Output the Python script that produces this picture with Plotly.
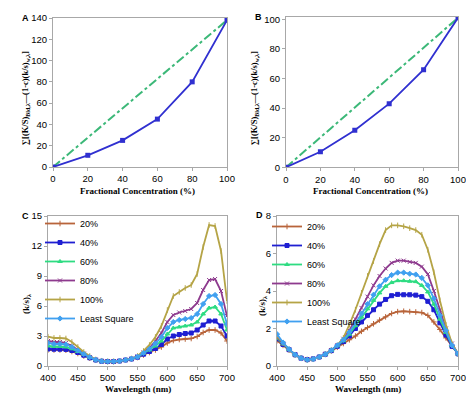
import plotly.graph_objects as go

# ---------------- data ----------------
conc = [0, 20, 40, 60, 80, 100]
a_meas = [0, 11, 25, 45, 80, 138]
a_lin = [0, 138]
a_lin_x = [0, 100]
b_meas = [0, 10.5, 25, 43, 66, 101]
b_lin = [0, 101]
b_lin_x = [0, 100]

wl = list(range(400, 701, 10))
series_names = ["20%", "40%", "60%", "80%", "100%", "Least Square"]

c_20 = [1.6, 1.6, 1.6, 1.58, 1.45, 1.25, 1.0, 0.78, 0.6, 0.48, 0.45, 0.45, 0.5, 0.58, 0.68, 0.85,
        1.1, 1.35, 1.6, 1.9, 2.3, 2.55, 2.65, 2.7, 2.75, 2.95, 3.35, 3.6, 3.6, 3.3, 2.5]
c_40 = [1.7, 1.68, 1.68, 1.66, 1.55, 1.35, 1.08, 0.82, 0.6, 0.48, 0.45, 0.45, 0.5, 0.6, 0.7, 0.88,
        1.18, 1.45, 1.75, 2.15, 2.7, 3.0, 3.15, 3.25, 3.3, 3.6, 4.1, 4.5, 4.5, 4.0, 3.0]
c_60 = [2.0, 1.95, 1.95, 1.9, 1.72, 1.45, 1.15, 0.85, 0.62, 0.48, 0.45, 0.45, 0.5, 0.6, 0.72, 0.9,
        1.25, 1.6, 2.0, 2.5, 3.2, 3.8, 3.9, 4.0, 4.1, 4.4, 5.2, 5.8, 5.9, 5.2, 3.6]
c_80 = [2.5, 2.4, 2.4, 2.3, 2.0, 1.6, 1.25, 0.9, 0.62, 0.48, 0.45, 0.45, 0.5, 0.6, 0.72, 0.95,
        1.35, 1.8, 2.5, 3.3, 4.4, 5.1, 5.35, 5.5, 5.7, 6.3, 7.6, 8.6, 8.7, 7.5, 5.0]
c_100 = [2.93, 2.8, 2.8, 2.75, 2.4, 1.9, 1.4, 1.0, 0.65, 0.5, 0.45, 0.45, 0.5, 0.6, 0.75, 1.0,
         1.5, 2.1, 2.9, 4.0, 5.6, 7.0, 7.4, 7.8, 8.1, 9.2, 11.9, 14.1, 14.0, 11.5, 6.5]
c_ls = [2.3, 2.2, 2.2, 2.15, 1.9, 1.55, 1.2, 0.88, 0.62, 0.48, 0.45, 0.45, 0.5, 0.6, 0.72, 0.92,
        1.3, 1.7, 2.25, 2.9, 3.8, 4.4, 4.6, 4.7, 4.8, 5.2, 6.2, 7.0, 7.1, 6.2, 4.2]

d_20 = [1.35, 1.1, 0.85, 0.6, 0.42, 0.35, 0.38, 0.48, 0.62, 0.8, 1.0, 1.2, 1.4, 1.6, 1.85, 2.05,
        2.25, 2.45, 2.62, 2.8, 2.9, 2.92, 2.9, 2.88, 2.85, 2.7, 2.35, 1.95, 1.5, 1.05, 0.65]
d_40 = [1.45, 1.15, 0.87, 0.6, 0.42, 0.34, 0.38, 0.48, 0.63, 0.82, 1.05, 1.3, 1.6, 2.0, 2.35, 2.7,
        3.0, 3.3, 3.55, 3.75, 3.82, 3.8, 3.8, 3.78, 3.7, 3.45, 3.0, 2.3, 1.65, 1.05, 0.65]
d_60 = [1.5, 1.18, 0.88, 0.6, 0.42, 0.33, 0.38, 0.48, 0.63, 0.83, 1.08, 1.35, 1.7, 2.15, 2.6, 3.05,
        3.5, 3.9, 4.25, 4.45, 4.55, 4.55, 4.52, 4.5, 4.3, 3.95, 3.3, 2.5, 1.8, 1.1, 0.65]
d_80 = [1.55, 1.2, 0.88, 0.6, 0.42, 0.33, 0.37, 0.48, 0.63, 0.84, 1.1, 1.45, 1.9, 2.5, 3.1, 3.7,
        4.3, 4.8, 5.2, 5.5, 5.62, 5.62, 5.55, 5.5, 5.3, 4.9, 4.0, 3.0, 2.0, 1.2, 0.65]
d_100 = [1.6, 1.22, 0.88, 0.6, 0.42, 0.32, 0.36, 0.47, 0.63, 0.85, 1.1, 1.5, 2.2, 3.0, 3.9, 4.8,
         5.6, 6.5, 7.25, 7.5, 7.5, 7.45, 7.35, 7.25, 7.0, 6.2, 5.0, 3.5, 2.2, 1.2, 0.65]
d_ls = [1.7, 1.25, 0.9, 0.6, 0.42, 0.33, 0.37, 0.48, 0.63, 0.84, 1.1, 1.4, 1.8, 2.3, 2.8, 3.3,
        3.8, 4.25, 4.6, 4.85, 4.98, 4.98, 4.92, 4.88, 4.7, 4.3, 3.6, 2.7, 1.9, 1.1, 0.65]

x_ticks_conc = [0, 20, 40, 60, 80, 100]
a_yticks = [0, 20, 40, 60, 80, 100, 120, 140]
b_yticks = [0, 20, 40, 60, 80, 100]
wl_ticks = [400, 450, 500, 550, 600, 650, 700]
c_yticks = [0, 3, 6, 9, 12, 15]
d_yticks = [0, 2, 4, 6, 8]

# ---------------- styles ----------------
colors = ["#B8643A", "#1F1FD2", "#2EDC82", "#8E3A8E", "#B5A446", "#40A0F0"]
symbols = ["cross-thin", "square", "triangle-up", "x-thin", "line-ns", "diamond"]
blue = "#3030D0"
green = "#3CB878"
serif = "Liberation Serif, Times New Roman, serif"
sans = "Liberation Sans, Arial, sans-serif"

fig = go.Figure()

# Panel A
fig.add_trace(go.Scatter(x=a_lin_x, y=a_lin, mode="lines", line=dict(color=green, width=2, dash="dashdot"),
                         showlegend=False, xaxis="x", yaxis="y"))
fig.add_trace(go.Scatter(x=conc, y=a_meas, mode="lines+markers", line=dict(color=blue, width=1.8),
                         marker=dict(symbol="square", size=5, color=blue), showlegend=False,
                         xaxis="x", yaxis="y"))
# Panel B
fig.add_trace(go.Scatter(x=b_lin_x, y=b_lin, mode="lines", line=dict(color=green, width=2, dash="dashdot"),
                         showlegend=False, xaxis="x2", yaxis="y2"))
fig.add_trace(go.Scatter(x=conc, y=b_meas, mode="lines+markers", line=dict(color=blue, width=1.8),
                         marker=dict(symbol="square", size=5, color=blue), showlegend=False,
                         xaxis="x2", yaxis="y2"))

c_data = [c_20, c_40, c_60, c_80, c_100, c_ls]
d_data = [d_20, d_40, d_60, d_80, d_100, d_ls]
for data, xa, ya, lg in ((c_data, "x3", "y3", "legend"), (d_data, "x4", "y4", "legend2")):
    for i, name in enumerate(series_names):
        fig.add_trace(go.Scatter(x=wl, y=data[i], name=name, mode="lines+markers",
                                 line=dict(color=colors[i], width=1.8),
                                 marker=dict(symbol=symbols[i], size=4, color=colors[i],
                                             line=dict(color=colors[i], width=1)),
                                 xaxis=xa, yaxis=ya, legend=lg))

W, H = 474, 398
def px(x):
    return x / W
def py(y):
    return (H - y) / H

axis_common = dict(showgrid=False, zeroline=False, showline=True, linecolor="#A8A8A8", linewidth=1,
                   mirror=True, ticks="outside", ticklen=3, tickcolor="#A8A8A8", automargin=False,
                   tickfont=dict(family=sans, size=9.5, color="#000"))

legend_common = dict(xanchor="left", yanchor="top", bgcolor="rgba(0,0,0,0)",
                     font=dict(family=sans, size=9, color="#000"), tracegroupgap=0, itemwidth=30)

fig.update_layout(
    template="none",
    width=W, height=H, margin=dict(l=0, r=0, t=0, b=0, autoexpand=False),
    paper_bgcolor="white", plot_bgcolor="white",
    xaxis=dict(domain=[px(45), px(219)], range=[0, 100], tickvals=x_ticks_conc, anchor="y", **axis_common),
    yaxis=dict(domain=[py(159), py(10)], range=[0, 140], tickvals=a_yticks, anchor="x", **axis_common),
    xaxis2=dict(domain=[px(278), px(450)], range=[0, 100], tickvals=x_ticks_conc, anchor="y2", **axis_common),
    yaxis2=dict(domain=[py(159.3), py(9.1)], range=[0, 101.5], tickvals=b_yticks, anchor="x2", **axis_common),
    xaxis3=dict(domain=[px(40), px(219)], range=[400, 700], tickvals=wl_ticks, anchor="y3", **axis_common),
    yaxis3=dict(domain=[py(358), py(208)], range=[0, 15], tickvals=c_yticks, anchor="x3", **axis_common),
    xaxis4=dict(domain=[px(269), px(450)], range=[400, 700], tickvals=wl_ticks, anchor="y4", **axis_common),
    yaxis4=dict(domain=[py(358), py(208)], range=[0, 8], tickvals=d_yticks, anchor="x4", **axis_common),
    legend=dict(x=px(32), y=py(201), **legend_common),
    legend2=dict(x=px(259), y=py(204), **legend_common),
)

title_font = dict(family=serif, size=9, color="#000")
ytitle_font = dict(family=serif, size=8.5, color="#000")
ann = [
    dict(text="<b>A</b>", x=px(17), y=py(10), font=dict(family=sans, size=9, color="#000")),
    dict(text="<b>B</b>", x=px(250), y=py(9), font=dict(family=sans, size=9, color="#000")),
    dict(text="<b>C</b>", x=px(17), y=py(208), font=dict(family=sans, size=9, color="#000")),
    dict(text="<b>D</b>", x=px(251), y=py(207), font=dict(family=sans, size=9, color="#000")),
    dict(text="<b>Fractional Concentration (%)</b>", x=px(129), y=py(183), font=title_font),
    dict(text="<b>Fractional Concentration (%)</b>", x=px(362), y=py(183), font=title_font),
    dict(text="<b>Wavelength (nm)</b>", x=px(130), y=py(381), font=title_font),
    dict(text="<b>Wavelength (nm)</b>", x=px(360), y=py(381), font=title_font),
    dict(text="<b>∑[(K/S)<sub>Bld,λ</sub>—(1-c)(k/s)<sub>w,λ</sub>]</b>", x=px(18), y=py(90),
         textangle=-90, font=ytitle_font),
    dict(text="<b>∑[(K/S)<sub>Bld,λ</sub>—(1-c)(k/s)<sub>w,λ</sub>]</b>", x=px(247), y=py(90),
         textangle=-90, font=ytitle_font),
    dict(text="<b>(k/s)<sub>λ</sub></b>", x=px(18), y=py(296), textangle=-90, font=title_font),
    dict(text="<b>(k/s)<sub>λ</sub></b>", x=px(254), y=py(298), textangle=-90, font=title_font),
]
for a in ann:
    a.update(xref="paper", yref="paper", showarrow=False, xanchor="center", yanchor="middle")
fig.update_layout(annotations=ann)

fig.write_html("out.html")
